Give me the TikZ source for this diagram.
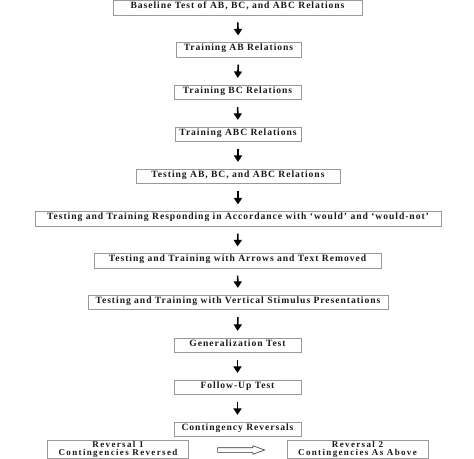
\documentclass[tikz,border=0pt]{standalone}
\usepackage{fontspec}
\usetikzlibrary{arrows.meta,shapes.arrows,calc}
\newfontfamily\boxfont{Liberation Serif}[LetterSpace=10]
\newfontfamily\revfont{Liberation Serif}[LetterSpace=15]
\begin{document}
\begin{tikzpicture}[x=1pt,y=-1pt,
  stepbox/.style={draw=black!40, line width=0.7pt, rectangle, inner xsep=0pt, inner ysep=0.5pt,
    text height=7.3pt, text depth=6.2pt, font=\boxfont\bfseries\fontsize{9.6}{9.6}\selectfont, text=black!90},
  twobox/.style={draw=black!40, line width=0.7pt, rectangle, inner xsep=0pt, inner ysep=0pt,
    minimum height=17.5pt, align=center, font=\revfont\bfseries\fontsize{9}{8.1}\selectfont, text=black!90},
  flow/.style={line width=1.6pt, -{Triangle[width=8pt,length=6.5pt]}, shorten >=7pt, shorten <=7pt}]
\useasboundingbox (0,0) rectangle (474,458);
\node[stepbox, minimum width=249pt] (b1) at (237.5,7.75) {Baseline Test of AB, BC, and ABC Relations};
\node[stepbox, minimum width=125pt] (b2) at (238.5,50) {Training AB Relations};
\node[stepbox, minimum width=127pt] (b3) at (237.5,92.5) {Training BC Relations};
\node[stepbox, minimum width=126pt] (b4) at (238,134.5) {Training ABC Relations};
\node[stepbox, minimum width=204pt] (b5) at (238,176.5) {Testing AB, BC, and ABC Relations};
\node[stepbox, minimum width=406pt] (b6) at (238,219) {Testing and Training Responding in Accordance with ‘would’ and ‘would-not’};
\node[stepbox, minimum width=287pt] (b7) at (237.5,261) {Testing and Training with Arrows and Text Removed};
\node[stepbox, minimum width=300pt] (b8) at (238,302.5) {Testing and Training with Vertical Stimulus Presentations};
\node[stepbox, minimum width=127pt] (b9) at (237.5,345.5) {Generalization Test};
\node[stepbox, minimum width=127pt] (b10) at (237.5,387.5) {Follow-Up Test};
\node[stepbox, minimum width=127pt] (b11) at (237.5,429.5) {Contingency Reversals};
\node[twobox, minimum width=141pt] (r1) at (118,449.3) {Reversal 1\\Contingencies Reversed};
\node[twobox, minimum width=141pt] (r2) at (357.5,449.3) {Reversal 2\\Contingencies As Above};
\foreach \a/\b in {b1/b2,b2/b3,b3/b4,b4/b5,b5/b6,b6/b7,b7/b8,b8/b9,b9/b10,b10/b11}
  \draw[flow] (\a.south) -- (\b.north);
\node[single arrow, draw=black!80, line width=0.6pt, inner sep=2pt, minimum height=47pt,
  minimum width=8pt, single arrow head extend=2pt, single arrow tip angle=40, anchor=tail]
  (ra) at ($(r1.east)+(28.5,0.7)$) {};
\end{tikzpicture}
\end{document}
